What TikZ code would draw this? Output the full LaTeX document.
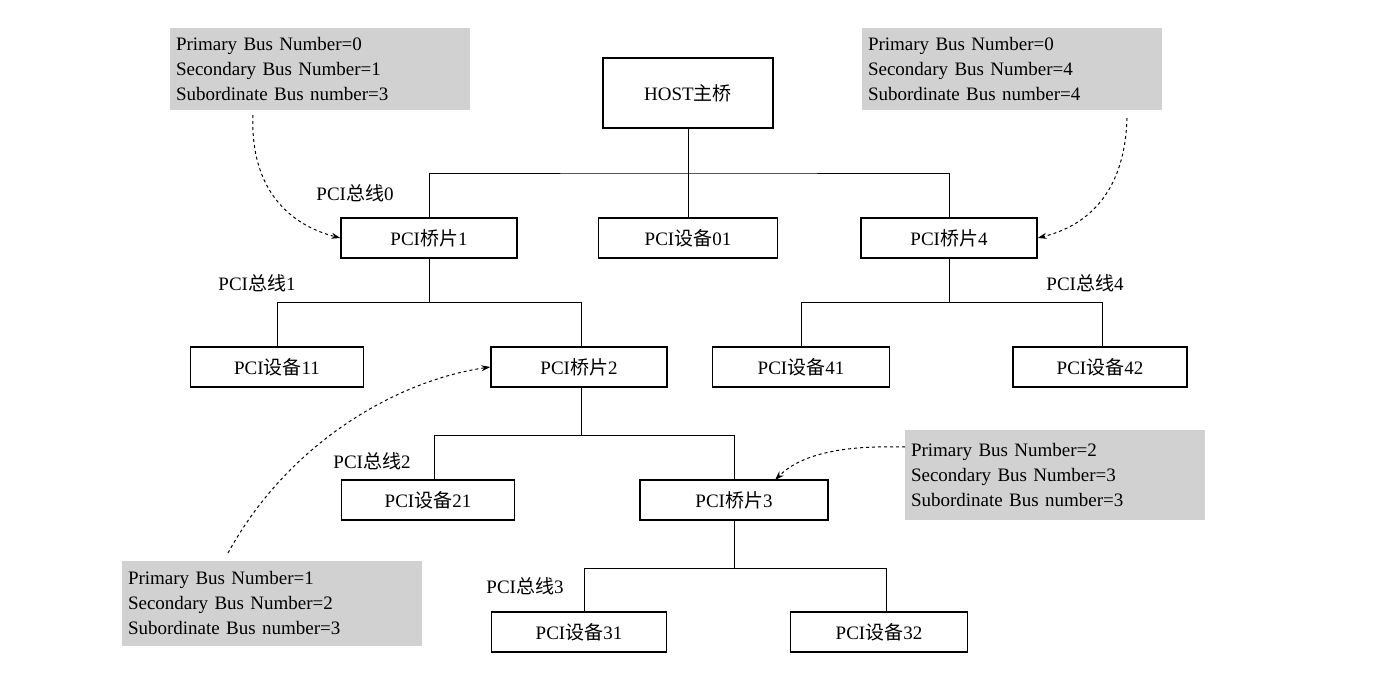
\documentclass[tikz,border=0pt]{standalone}
\usepackage{fontspec}
\setmainfont{Liberation Serif}
\newfontfamily\cjk{Noto Sans CJK SC}
\usetikzlibrary{arrows.meta}
\begin{document}
\begin{tikzpicture}[x=1pt,y=-1pt,
  font=\fontsize{19}{25}\selectfont,
  bx/.style={draw,line width=1.3pt,minimum width=176pt,minimum height=40pt,inner sep=0},
  gb/.style={fill=black!18,align=left,inner xsep=6pt,inner ysep=4pt,text width=288pt},
  ln/.style={line width=1pt},
  dsh/.style={dashed,line width=1pt,-{Stealth[length=9pt,width=6pt]}}]
\useasboundingbox (0,0) rectangle (1374,677);
\node[bx,minimum width=170pt,minimum height=70pt] (host) at (688,93) {HOST{\cjk 主桥}};
\node[bx] (b1) at (429,238) {PCI{\cjk 桥片}1};
\node[bx,minimum width=179pt] (d01) at (688,238) {PCI{\cjk 设备}01};
\node[bx] (b4) at (949,238) {PCI{\cjk 桥片}4};
\node[bx,minimum width=173pt] (d11) at (277,367) {PCI{\cjk 设备}11};
\node[bx] (b2) at (579,367) {PCI{\cjk 桥片}2};
\node[bx,minimum width=177pt] (d41) at (801,367) {PCI{\cjk 设备}41};
\node[bx,minimum width=174pt] (d42) at (1100,367) {PCI{\cjk 设备}42};
\node[bx,minimum width=173pt] (d21) at (428,500) {PCI{\cjk 设备}21};
\node[bx,minimum width=188pt] (b3) at (734,500) {PCI{\cjk 桥片}3};
\node[bx,minimum width=175pt] (d31) at (579,632) {PCI{\cjk 设备}31};
\node[bx,minimum width=177pt] (d32) at (879,632) {PCI{\cjk 设备}32};
% buses
\draw[ln] (host.south) -- (688,173);
\draw[ln] (b1.north) |- (688,173) -| (b4.north);
\draw[ln] (688,173) -- (d01.north);
\draw[ln] (b1.south) -- (429,302);
\draw[ln] (d11.north) |- (581,302) -- (581,347);
\draw[ln] (b4.south) -- (949,302);
\draw[ln] (d41.north) |- (1102,302) -- (1102,347);
\draw[ln] (581,387) -- (581,435);
\draw[ln] (434,480) |- (734,435) -- (b3.north);
\draw[ln] (b3.south) -- (734,568);
\draw[ln] (584,612) |- (886,568) -- (886,612);
% bus labels
\node (l0) at (355,193) {PCI{\cjk 总线}0};
\node (l1) at (257,283) {PCI{\cjk 总线}1};
\node (l4) at (1085,283) {PCI{\cjk 总线}4};
\node (l2) at (372,461) {PCI{\cjk 总线}2};
\node (l3) at (525,586) {PCI{\cjk 总线}3};
% grey info boxes
\node[gb,minimum height=82pt] (g1) at (320,69) {Primary Bus Number=0\\Secondary Bus Number=1\\Subordinate Bus number=3};
\node[gb,minimum height=82pt] (g4) at (1012,69) {Primary Bus Number=0\\Secondary Bus Number=4\\Subordinate Bus number=4};
\node[gb,minimum height=90pt] (g3) at (1055,475) {Primary Bus Number=2\\Secondary Bus Number=3\\Subordinate Bus number=3};
\node[gb,minimum height=85pt] (g2) at (272,603) {Primary Bus Number=1\\Secondary Bus Number=2\\Subordinate Bus number=3};
\coordinate (s1) at (253,115);
\coordinate (s4) at (1127,118);
\coordinate (s3) at (905,447);
\coordinate (s2) at (228,553);
\draw[dsh] (s1) .. controls (250,190) and (290,225) .. (b1.west);
\draw[dsh] (s4) .. controls (1125,190) and (1090,225) .. (b4.east);
\draw[dsh] (s3) .. controls (840,445) and (800,455) .. (775,480);
\draw[dsh] (s2) .. controls (290,440) and (400,380) .. (b2.west);
\end{tikzpicture}
\end{document}
